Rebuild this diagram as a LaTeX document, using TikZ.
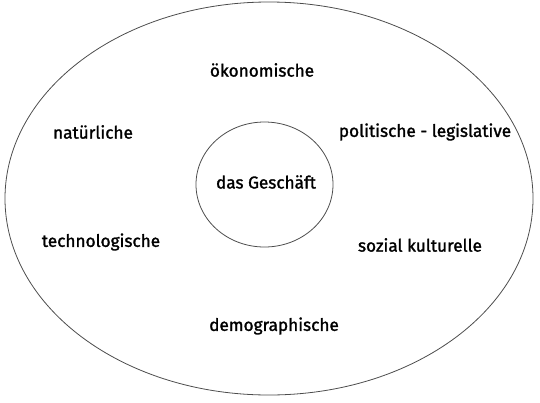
\documentclass[tikz,border=0pt]{standalone}
\usepackage{fontspec}
\setmainfont{Fira Sans}
\newfontfamily\lblfont{Fira Sans}[FakeBold=1.5]
\usetikzlibrary{shapes.geometric}
\begin{document}
\begin{tikzpicture}[x=1pt,y=-1pt,
  ring/.style={draw=black!70, line width=0.8pt, ellipse, inner sep=0pt},
  lbl/.style={font=\lblfont\fontsize{17.2}{19}\selectfont, text=black, inner sep=0pt}]
\useasboundingbox (0,0) rectangle (540,402);
\node[ring, minimum width=528pt, minimum height=393pt] (outer) at (269,198.5) {};
\node[ring, minimum width=137pt, minimum height=125pt] (inner) at (264.5,184.5) {};
\node[lbl] (g) at (266,182) {das Geschäft};
\node[lbl] (oek) at (262,70) {ökonomische};
\node[lbl] (nat) at (93,132) {natürliche};
\node[lbl] (pol) at (425,132) {politische - legislative};
\node[lbl] (tech) at (101,242) {technologische};
\node[lbl] (soz) at (420,245) {sozial kulturelle};
\node[lbl] (dem) at (274,326) {demographische};
\end{tikzpicture}
\end{document}
